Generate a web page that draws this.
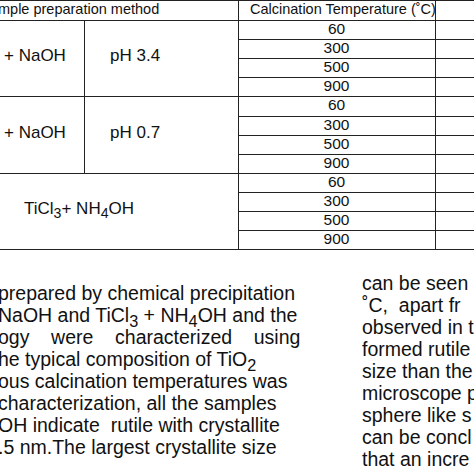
<!DOCTYPE html><html><head><meta charset="utf-8">
<script src="https://cdn.jsdelivr.net/npm/chart.js"></script>
<style>
body{margin:0;width:474px;height:474px;overflow:hidden;background:#fff;font-family:"Liberation Sans",Arial,sans-serif;color:#111;position:relative}
.t{position:absolute;white-space:nowrap}
.l{position:absolute;background:#222}
.p{position:absolute;font-size:19.5px;white-space:nowrap;line-height:22px}
</style></head><body>
<div id="root"></div>
<script>
const temps=["60","300","500","900"];
const groups=["+ NaOH","+ NaOH","TiCl<sub>3</sub>+ NH<sub>4</sub>OH"];
const phs=["pH 3.4","pH 0.7",""];
const leftText=["prepared by chemical precipitation","NaOH and TiCl<sub>3</sub> + NH<sub>4</sub>OH and the","ogy&nbsp;&nbsp;&nbsp;&nbsp;were&nbsp;&nbsp;&nbsp;&nbsp;characterized&nbsp;&nbsp;&nbsp;&nbsp;using","he typical composition of TiO<sub>2</sub>","ous calcination temperatures was","characterization, all the samples","OH indicate&nbsp; rutile with crystallite",".5 nm.The largest crystallite size"];
const rightText=["can be seen","˚C,&nbsp; apart fr","observed in t","formed rutile","size than the","microscope p","sphere like s","can be concl","that an incre"];
const r=document.getElementById('root');
function add(cls,css,html){const d=document.createElement('div');d.className=cls;d.style.cssText=css;if(html)d.innerHTML=html;r.appendChild(d);}
const top0=20,rh=19.1;
add('l','left:0;top:0;width:474px;height:1px');
add('l','left:0;top:20px;width:474px;height:1px');
for(let g=0;g<3;g++){for(let i=1;i<=4;i++){const y=Math.round(top0+(g*4+i)*rh);const x=(i==4)?0:238;add('l',`left:${x}px;top:${y}px;width:${474-x}px;height:1px`);}}
const bottom=Math.round(top0+12*rh);
add('l',`left:238px;top:0;width:1px;height:${bottom}px`);
add('l',`left:435px;top:0;width:1px;height:${bottom}px`);
add('l',`left:84px;top:20px;width:1px;height:${Math.round(8*rh)}px`);
add('t','left:-2px;top:1px;font-size:14.5px','mple preparation method');
add('t','left:250px;top:1px;font-size:14.5px','Calcination Temperature (˚C)');
for(let g=0;g<3;g++){
 const cy=top0+(g*4+2)*rh;
 if(g<2){add('t',`left:4px;top:${cy-12}px;font-size:17px`,groups[g]);add('t',`left:110px;top:${cy-12}px;font-size:17px`,phs[g]);}
 else add('t',`left:24px;top:${cy-12}px;font-size:17px`,groups[g]);
 for(let i=0;i<4;i++){const y=top0+(g*4+i)*rh;add('t',`left:238px;width:197px;text-align:center;top:${y}px;font-size:15.5px`,temps[i]);}
}
leftText.forEach((s,i)=>add('p',`left:-2px;top:${282+i*22}px`,s));
rightText.forEach((s,i)=>add('p',`left:362px;top:${272+i*22}px`,s));
</script></body></html>
